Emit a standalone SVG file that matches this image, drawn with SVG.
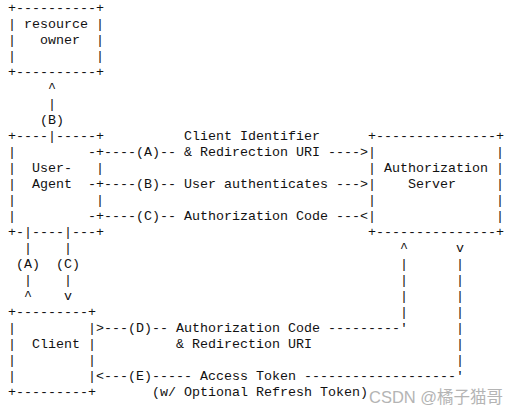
<svg xmlns="http://www.w3.org/2000/svg" width="521" height="415" viewBox="0 0 521 415" xml:space="preserve">
<style>
text { font-family: "Liberation Mono", "Courier New", monospace; font-size: 13.333px; fill: #111; white-space: pre; }
text.wm { font-family: "Liberation Sans", "Noto Sans CJK SC", sans-serif; font-size: 16.5px; fill: #b4b4b4; }
</style>
<rect width="521" height="415" fill="#fff"/>
<g id="resource-owner">
<text x="8" y="12">+----------+</text>
<text x="8" y="28">| resource |</text>
<text x="8" y="44">|   owner  |</text>
<text x="8" y="60">|          |</text>
<text x="8" y="76">+----------+</text>
</g>
<g id="user-agent">
<text x="8" y="140">+----|-----+</text>
<text x="8" y="156">|</text><text x="96" y="156">+</text>
<text x="8" y="172">|  User-   |</text>
<text x="8" y="188">|  Agent</text><text x="96" y="188">+</text>
<text x="8" y="204">|          |</text>
<text x="8" y="220">|</text><text x="96" y="220">+</text>
<text x="8" y="236">+-|----|---+</text>
</g>
<g id="authorization-server">
<text x="368" y="140">+---------------+</text>
<text x="368" y="156">|               |</text>
<text x="368" y="172">| Authorization |</text>
<text x="368" y="188">|    Server     |</text>
<text x="368" y="204">|               |</text>
<text x="368" y="220">|               |</text>
<text x="368" y="236">+---------------+</text>
</g>
<g id="client">
<text x="8" y="316">+---------+</text>
<text x="8" y="332">|         |</text>
<text x="8" y="348">|  Client |</text>
<text x="8" y="364">|         |</text>
<text x="8" y="380">|         |</text>
<text x="8" y="396">+---------+</text>
</g>
<g id="connectors">
<text x="48" y="92">^</text>
<text x="48" y="108">|</text>
<text x="40" y="124">(B)</text>
<text x="184" y="140">Client Identifier</text>
<text x="88" y="156">-</text><text x="104" y="156">----(A)-- &amp; Redirection URI ----&gt;</text>
<text x="88" y="188">-</text><text x="104" y="188">----(B)-- User authenticates ---&gt;</text>
<text x="88" y="220">-</text><text x="104" y="220">----(C)-- Authorization Code ---&lt;</text>
<text x="24" y="252">|</text><text x="64" y="252">|</text>
<text x="16" y="268">(A)</text><text x="56" y="268">(C)</text>
<text x="24" y="284">|</text><text x="64" y="284">|</text>
<text x="24" y="300">^</text><text x="64" y="300">v</text>
<text x="400" y="252">^</text><text x="456" y="252">v</text>
<text x="400" y="268">|</text><text x="456" y="268">|</text>
<text x="400" y="284">|</text><text x="456" y="284">|</text>
<text x="400" y="300">|</text><text x="456" y="300">|</text>
<text x="400" y="316">|</text><text x="456" y="316">|</text>
<text x="96" y="332">&gt;---(D)-- Authorization Code ---------'</text><text x="456" y="332">|</text>
<text x="176" y="348">&amp; Redirection URI</text><text x="456" y="348">|</text>
<text x="456" y="364">|</text>
<text x="96" y="380">&lt;---(E)----- Access Token -------------------'</text>
<text x="152" y="396">(w/ Optional Refresh Token)</text>
</g>
<text class="wm" x="369" y="402.5">CSDN @橘子猫哥</text>
</svg>
